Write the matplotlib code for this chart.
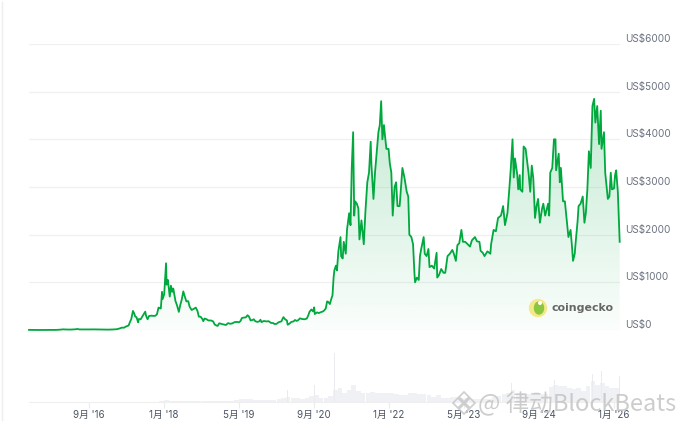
import numpy as np
import pandas as pd
import matplotlib
matplotlib.use("Agg")
import matplotlib.pyplot as plt
import matplotlib.dates as mdates
from matplotlib.patches import Circle, Ellipse

plt.rcParams["font.family"] = ["Inter", "Noto Sans CJK SC", "DejaVu Sans"]

# ETH price (USD)
price_dates = [
    "2015-08-07", "2015-09-01", "2015-10-01", "2015-11-01", "2015-12-01", "2016-01-01",
    "2016-02-01", "2016-03-01", "2016-03-13", "2016-04-01", "2016-05-01", "2016-06-01",
    "2016-06-17", "2016-07-01", "2016-08-01", "2016-09-01", "2016-10-01", "2016-11-01",
    "2016-12-01", "2017-01-01", "2017-02-01", "2017-03-01", "2017-03-15", "2017-04-01",
    "2017-04-15", "2017-05-01", "2017-05-15", "2017-05-25", "2017-06-01", "2017-06-12",
    "2017-06-20", "2017-06-27", "2017-07-05", "2017-07-16", "2017-07-20", "2017-08-01",
    "2017-08-15", "2017-08-31", "2017-09-05", "2017-09-15", "2017-09-25", "2017-10-10",
    "2017-10-25", "2017-11-05", "2017-11-15", "2017-11-25", "2017-12-01", "2017-12-10",
    "2017-12-18", "2017-12-22", "2018-01-01", "2018-01-08", "2018-01-13", "2018-01-17",
    "2018-01-25", "2018-02-06", "2018-02-14", "2018-02-22", "2018-03-01", "2018-03-15",
    "2018-03-25", "2018-04-06", "2018-04-15", "2018-04-25", "2018-05-05", "2018-05-15",
    "2018-05-25", "2018-06-06", "2018-06-15", "2018-06-28", "2018-07-10", "2018-07-25",
    "2018-08-05", "2018-08-14", "2018-08-25", "2018-09-06", "2018-09-12", "2018-09-20",
    "2018-10-01", "2018-10-15", "2018-11-01", "2018-11-15", "2018-11-25", "2018-12-06",
    "2018-12-14", "2018-12-24", "2019-01-01", "2019-01-10", "2019-01-25", "2019-02-06",
    "2019-02-20", "2019-03-05", "2019-03-20", "2019-04-03", "2019-04-20", "2019-05-01",
    "2019-05-12", "2019-05-20", "2019-06-01", "2019-06-15", "2019-06-26", "2019-07-05",
    "2019-07-16", "2019-07-28", "2019-08-06", "2019-08-15", "2019-08-29", "2019-09-10",
    "2019-09-18", "2019-09-25", "2019-10-10", "2019-10-26", "2019-11-10", "2019-11-25",
    "2019-12-10", "2019-12-18", "2020-01-01", "2020-01-15", "2020-02-01", "2020-02-14",
    "2020-02-25", "2020-03-08", "2020-03-13", "2020-03-25", "2020-04-06", "2020-04-20",
    "2020-04-30", "2020-05-10", "2020-05-20", "2020-06-01", "2020-06-15", "2020-07-01",
    "2020-07-15", "2020-07-25", "2020-08-02", "2020-08-14", "2020-08-25", "2020-09-01",
    "2020-09-05", "2020-09-20", "2020-10-01", "2020-10-15", "2020-10-28", "2020-11-05",
    "2020-11-15", "2020-11-24", "2020-12-01", "2020-12-12", "2020-12-20", "2020-12-29",
    "2021-01-05", "2021-01-10", "2021-01-20", "2021-01-27", "2021-02-05", "2021-02-19",
    "2021-02-23", "2021-03-05", "2021-03-12", "2021-03-25", "2021-04-02", "2021-04-16",
    "2021-04-25", "2021-05-03", "2021-05-12", "2021-05-19", "2021-05-25", "2021-06-05",
    "2021-06-15", "2021-06-22", "2021-07-05", "2021-07-20", "2021-07-31", "2021-08-12",
    "2021-08-23", "2021-09-03", "2021-09-08", "2021-09-21", "2021-10-01", "2021-10-15",
    "2021-10-23", "2021-11-01", "2021-11-10", "2021-11-18", "2021-11-28", "2021-12-04",
    "2021-12-14", "2021-12-28", "2022-01-05", "2022-01-15", "2022-01-24", "2022-02-05",
    "2022-02-15", "2022-02-24", "2022-03-10", "2022-03-28", "2022-04-10", "2022-04-25",
    "2022-05-05", "2022-05-12", "2022-05-25", "2022-06-05", "2022-06-14", "2022-06-18",
    "2022-06-30", "2022-07-12", "2022-07-20", "2022-07-28", "2022-08-13", "2022-08-20",
    "2022-09-01", "2022-09-13", "2022-09-20", "2022-10-05", "2022-10-20", "2022-11-05",
    "2022-11-09", "2022-11-20", "2022-12-05", "2022-12-20", "2022-12-31", "2023-01-15",
    "2023-01-30", "2023-02-15", "2023-02-25", "2023-03-10", "2023-03-20", "2023-04-01",
    "2023-04-15", "2023-04-25", "2023-05-10", "2023-05-25", "2023-06-10", "2023-06-22",
    "2023-07-12", "2023-07-25", "2023-08-10", "2023-08-18", "2023-09-01", "2023-09-12",
    "2023-10-01", "2023-10-20", "2023-10-25", "2023-11-10", "2023-11-25", "2023-12-09",
    "2023-12-28", "2024-01-11", "2024-01-23", "2024-02-08", "2024-02-20", "2024-03-01",
    "2024-03-12", "2024-03-20", "2024-03-28", "2024-04-12", "2024-04-18", "2024-04-28",
    "2024-05-01", "2024-05-15", "2024-05-23", "2024-06-05", "2024-06-24", "2024-07-05",
    "2024-07-15", "2024-07-25", "2024-08-05", "2024-08-15", "2024-08-25", "2024-09-06",
    "2024-09-20", "2024-09-28", "2024-10-10", "2024-10-29", "2024-11-05", "2024-11-12",
    "2024-11-25", "2024-12-06", "2024-12-16", "2024-12-20", "2025-01-06", "2025-01-13",
    "2025-01-20", "2025-02-03", "2025-02-15", "2025-02-27", "2025-03-10", "2025-03-24",
    "2025-04-01", "2025-04-09", "2025-04-20", "2025-04-25", "2025-05-09", "2025-05-15",
    "2025-05-28", "2025-06-11", "2025-06-22", "2025-07-01", "2025-07-11", "2025-07-21",
    "2025-08-02", "2025-08-13", "2025-08-24", "2025-09-01", "2025-09-13", "2025-09-25",
    "2025-10-06", "2025-10-11", "2025-10-27", "2025-11-04", "2025-11-21", "2025-12-01",
    "2025-12-10", "2025-12-18", "2025-12-31", "2026-01-07", "2026-01-14", "2026-01-25",
    "2026-02-01", "2026-02-06",
]
price_usd = [
    2.8, 1.3, 0.7, 1.0, 0.9, 1.0,
    2.3, 8, 14, 11, 9, 14,
    21, 12, 11, 12, 13, 11,
    8, 8, 11, 17, 30, 50,
    48, 78, 95, 180, 225, 400,
    350, 280, 270, 160, 230, 225,
    300, 385, 300, 225, 295, 300,
    295, 300, 330, 470, 460, 450,
    800, 650, 750, 1150, 1400, 950,
    1050, 700, 930, 800, 870, 610,
    520, 380, 520, 640, 810, 700,
    600, 605, 490, 420, 440, 470,
    400, 280, 280, 230, 185, 240,
    230, 200, 200, 180, 115, 95,
    85, 140, 135, 125, 115, 105,
    145, 130, 140, 165, 170, 160,
    190, 250, 260, 265, 310, 285,
    200, 210, 225, 185, 170, 180,
    215, 165, 190, 180, 185, 150,
    145, 125, 130, 165, 180, 270,
    225, 200, 110, 135, 170, 180,
    210, 190, 205, 245, 230, 225,
    240, 310, 385, 430, 390, 475,
    335, 370, 355, 375, 390, 410,
    450, 600, 590, 545, 640, 730,
    1100, 1250, 1350, 1250, 1650, 1950,
    1550, 1500, 1850, 1600, 2100, 2450,
    2200, 3400, 4150, 2400, 2700, 2650,
    2550, 1900, 2300, 1800, 2500, 3100,
    3300, 3950, 3450, 2750, 3300, 3850,
    4150, 4300, 4800, 4000, 4300, 4100,
    3800, 3800, 3500, 3300, 2400, 3000,
    3100, 2600, 2600, 3400, 3200, 2900,
    2800, 2000, 1950, 1800, 1200, 1000,
    1100, 1050, 1550, 1700, 1950, 1600,
    1550, 1700, 1320, 1350, 1290, 1620,
    1100, 1150, 1280, 1200, 1200, 1550,
    1600, 1680, 1600, 1450, 1780, 1820,
    2100, 1850, 1850, 1800, 1750, 1880,
    1950, 1860, 1850, 1660, 1620, 1550,
    1650, 1600, 1800, 2100, 2070, 2350,
    2400, 2600, 2200, 2450, 2950, 3400,
    4000, 3200, 3600, 3250, 2950, 3250,
    2950, 2900, 3850, 3800, 3300, 2900,
    3450, 3180, 2350, 2600, 2750, 2250,
    2550, 2650, 2400, 2650, 2400, 3300,
    3400, 4000, 4000, 3350, 3700, 3100,
    3400, 2700, 2700, 2300, 1950, 2100,
    1800, 1450, 1600, 1800, 2300, 2600,
    2650, 2800, 2250, 2450, 2950, 3750,
    3400, 4700, 4850, 4350, 4700, 3900,
    4600, 3800, 4150, 3300, 2750, 2800,
    3300, 2950, 2970, 3250, 3350, 2900,
    2300, 1850,
]

# monthly trading volume (USD bn), Aug 2015 - Feb 2026
vol_start = "2015-08-01"
vol_bn = [
    0, 0, 0, 0, 0,
    0, 0, 0, 0, 0, 0, 0, 0, 0, 0, 0, 0,
    0, 0, 0, 0, 0.2, 0.5, 0.4, 0.3, 0.4, 0.2, 0.3, 1,
    2, 1.5, 1, 1, 1.2, 0.8, 0.8, 1, 1, 0.7, 0.8, 1,
    1, 1.2, 1.5, 2, 3.5, 3.5, 3, 2.5, 2.5, 2.5, 2.5, 2.5,
    3, 5, 6, 5, 5, 3.5, 4.5, 7, 8, 5, 5, 7,
    14, 16, 11, 14, 20, 13, 10, 11, 12, 10, 11, 10,
    10, 9, 8, 8, 10, 10, 9, 9, 8, 6, 8, 5,
    5, 6, 6, 5, 4.5, 4, 4, 4, 3.5, 4, 6, 7,
    9, 11, 14, 11, 10, 9, 9, 12, 9, 9, 17, 20,
    18, 19, 16, 15, 16, 13, 18, 24, 20, 22, 19, 16,
    16, 22,
]
# single-day volume spikes (USD bn)
spike_dates = ["2020-03-12", "2020-09-03", "2021-01-11", "2021-02-22", "2021-05-12",
               "2021-05-19", "2021-12-04", "2022-06-13", "2022-11-09", "2024-03-05",
               "2024-08-05", "2024-12-09", "2025-02-03", "2025-04-07", "2025-08-14",
               "2025-10-10", "2026-02-05"]
spike_bn = [14, 20, 57, 32, 42, 48, 22, 20, 20, 22, 30, 26, 34, 26, 32, 36, 30]

tick_dates = ["2016-09-01", "2018-01-01", "2019-05-01", "2020-09-01",
              "2022-01-01", "2023-05-01", "2024-09-01", "2026-01-01"]
tick_labels = ["9月 '16", "1月 '18", "5月 '19", "9月 '20",
               "1月 '22", "5月 '23", "9月 '24", "1月 '26"]
y_ticks = [0, 1000, 2000, 3000, 4000, 5000, 6000]

GREEN = "#00a83e"
W, H = 680, 428
fig = plt.figure(figsize=(W / 100, H / 100), dpi=100)


def px_axes(x0, y0, x1, y1):
    return fig.add_axes([x0 / W, 1 - y1 / H, (x1 - x0) / W, (y1 - y0) / H])


dates = pd.to_datetime(price_dates)
prices = np.array(price_usd, dtype=float)
x0 = pd.Timestamp("2015-08-07")
x1 = pd.Timestamp("2026-02-08")

ax = px_axes(29, 44, 620, 330)
ax.set_xlim(x0, x1)
ax.set_ylim(0, 6000)
ax.axis("off")

for v in y_ticks:
    ax.axhline(v, color="#f0f0f0", lw=0.9, zorder=0)
    ax.text(1.0086, v, f"US${v}", transform=ax.get_yaxis_transform(),
            ha="left", va="bottom", fontsize=7.2, color="#6b7280")

# gradient fill under the line
poly = ax.fill_between(dates, prices, 0, color="none", lw=0)
grad = np.zeros((256, 1, 4))
grad[:, 0, :3] = matplotlib.colors.to_rgb("#21b35a")
grad[:, 0, 3] = np.linspace(0.28, 0.02, 256)
xn = mdates.date2num([x0, x1])
img = ax.imshow(grad, aspect="auto", extent=[xn[0], xn[1], 0, 5000],
                origin="upper", zorder=1)
img.set_clip_path(poly.get_paths()[0], transform=ax.transData)
ax.set_xlim(x0, x1)
ax.set_ylim(0, 6000)
ax.plot(dates, prices, color=GREEN, lw=1.3, zorder=3, clip_on=False,
        solid_joinstyle="round")

# volume panel
vax = px_axes(29, 345, 620, 402)
vdates = pd.date_range(vol_start, periods=len(vol_bn), freq="MS")
vax.bar(vdates, vol_bn, width=30, align="edge", color="#f0f1f4", lw=0)
vax.bar(pd.to_datetime(spike_dates), spike_bn, width=2.5, color="#e9ebef", lw=0)
vax.set_xlim(x0, x1)
vax.set_ylim(0, 66)
for s in ["top", "right", "left"]:
    vax.spines[s].set_visible(False)
vax.spines["bottom"].set_color("#efefef")
vax.set_yticks([])
vax.set_xticks(pd.to_datetime(tick_dates))
vax.set_xticklabels(tick_labels, fontsize=7, color="#4b5563")
vax.tick_params(axis="x", length=4, color="#ececec", pad=2)

# left border
fig.add_artist(plt.Line2D([2 / W, 2 / W], [1 - 2 / H, 1 - 420 / H],
                          color="#eeeeee", lw=1))

# coingecko watermark
lax = fig.add_axes([0, 0, 1, 1], facecolor="none")
lax.set_xlim(0, W)
lax.set_ylim(H, 0)
lax.axis("off")
lax.add_patch(Circle((538, 308), 8.5, color="#f3e98a", zorder=5))
lax.add_patch(Ellipse((539, 308), 9, 12, color="#8cc63f", zorder=6))
lax.add_patch(Circle((540, 303), 1.3, color="white", zorder=7))
lax.text(552, 308, "coingecko", fontsize=7.9, fontweight="bold",
         color="#666666", ha="left", va="center", family="DejaVu Sans", zorder=7)

# BlockBeats watermark
for dx, dy in [(-6, 0), (6, 0), (0, -6), (0, 6)]:
    lax.plot(464 + dx, 403 + dy, marker="D", ms=5.5, mfc="none", mec="#c9c9c9",
             mew=1.2, alpha=0.9)
lax.text(478, 404, "@ 律动BlockBeats", fontsize=17, color="#c4c4c4", alpha=0.85,
         ha="left", va="center", family=["Noto Sans CJK SC", "DejaVu Sans"])

fig.savefig("out.png", dpi=100)
